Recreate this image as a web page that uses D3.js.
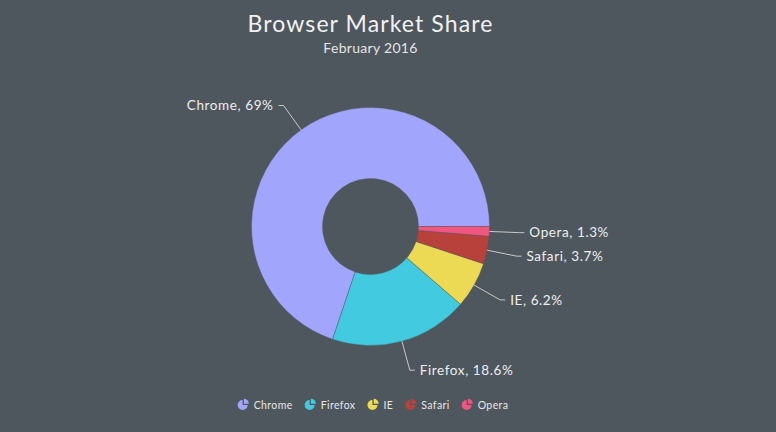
<!DOCTYPE html>
<html>
<head>
<meta charset="utf-8">
<script src="https://cdn.jsdelivr.net/npm/d3@7"></script>
<style>
  html, body { margin: 0; padding: 0; background: #4f575e; }
  svg { display: block; font-family: Lato, "Open Sans", sans-serif; }
</style>
</head>
<body>
<div class="chart"></div>
<script>
// data
const browsers = ["Chrome", "Firefox", "IE", "Safari", "Opera"]
const shares = [69, 18.6, 6.2, 3.7, 1.3]
const colors = ["#a1a5fc", "#41cae0", "#ecda55", "#b9413c", "#f2557f"]

const title = "Browser Market Share"
const subtitle = "February 2016"

const width = 776
const height = 432
const cx = 370.5, cy = 226.5
const outerR = 119, innerR = 48

const data = browsers.map((b, i) => ({ name: b, value: shares[i], color: colors[i] }))

let svg = d3.select(".chart")
  .append("svg")
  .attr("width", width)
  .attr("height", height)

svg.append("rect")
  .attr("width", width)
  .attr("height", height)
  .style("fill", "#4f575e")

svg.append("text")
  .attr("x", cx)
  .attr("y", 32)
  .attr("text-anchor", "middle")
  .style("font-size", "23px")
  .style("letter-spacing", "1.1px")
  .style("fill", "#f2f2f2")
  .text(title)

svg.append("text")
  .attr("x", cx)
  .attr("y", 53)
  .attr("text-anchor", "middle")
  .style("font-size", "14px")
  .style("letter-spacing", "0.3px")
  .style("fill", "#e4e4e4")
  .text(subtitle)

// chrome starts at 3 o'clock and runs counter-clockwise
let pie = d3.pie()
  .sort(null)
  .value(d => d.value)
  .startAngle(Math.PI / 2)
  .endAngle(Math.PI / 2 - 2 * Math.PI)

let arc = d3.arc()
  .innerRadius(innerR)
  .outerRadius(outerR)

let arcs = pie(data)

let g = svg.append("g")
  .attr("transform", `translate(${cx},${cy})`)

g.selectAll("path.slice")
  .data(arcs)
  .enter()
  .append("path")
  .attr("class", "slice")
  .attr("d", arc)
  .style("fill", d => d.data.color)
  .style("stroke", "#4f575e")
  .style("stroke-width", 0.4)

// outside labels with connectors
const elbowR = outerR + 30
const hook = 5

arcs.forEach(d => {
  let a = (d.startAngle + d.endAngle) / 2
  let x0 = Math.sin(a) * outerR, y0 = -Math.cos(a) * outerR
  let x1 = Math.sin(a) * elbowR, y1 = -Math.cos(a) * elbowR
  let right = x1 > 0
  let x2 = x1 + (right ? hook : -hook)

  g.append("polyline")
    .attr("points", [[x0, y0], [x1, y1], [x2, y1]].map(p => p.join(",")).join(" "))
    .style("fill", "none")
    .style("stroke", "#c8c8c8")
    .style("stroke-width", 1)

  g.append("text")
    .attr("x", x2 + (right ? 5 : -5))
    .attr("y", y1)
    .attr("dy", "0.35em")
    .attr("text-anchor", right ? "start" : "end")
    .style("font-size", "13.5px")
    .style("letter-spacing", "0.6px")
    .style("fill", "#eeeeee")
    .text(d.data.name + ", " + d.data.value + "%")
})

// legend
let legend = svg.append("g")
  .attr("transform", `translate(0,405)`)

let iconArc = d3.arc().innerRadius(0).outerRadius(5)

let items = legend.selectAll("g.item")
  .data(data)
  .enter()
  .append("g")
  .attr("class", "item")

items.append("path")
  .attr("d", iconArc({ startAngle: Math.PI / 2, endAngle: 2 * Math.PI }))
  .style("fill", d => d.color)

items.append("path")
  .attr("d", iconArc({ startAngle: 0, endAngle: Math.PI / 2 }))
  .attr("transform", "translate(1.2,-1.2)")
  .style("fill", d => d.color)

items.append("text")
  .attr("x", 11)
  .attr("dy", "0.35em")
  .style("font-size", "10.5px")
  .style("letter-spacing", "0.4px")
  .style("fill", "#e6e6e6")
  .text(d => d.name)

let xPos = 0
let offsets = []
items.each(function() {
  let w = 11 + this.querySelector("text").getComputedTextLength()
  offsets.push(xPos)
  xPos += w + 17
})
let total = xPos - 17
let left = cx - total / 2 + 5
items.attr("transform", (d, i) => `translate(${left + offsets[i]},0)`)
</script>
</body>
</html>
